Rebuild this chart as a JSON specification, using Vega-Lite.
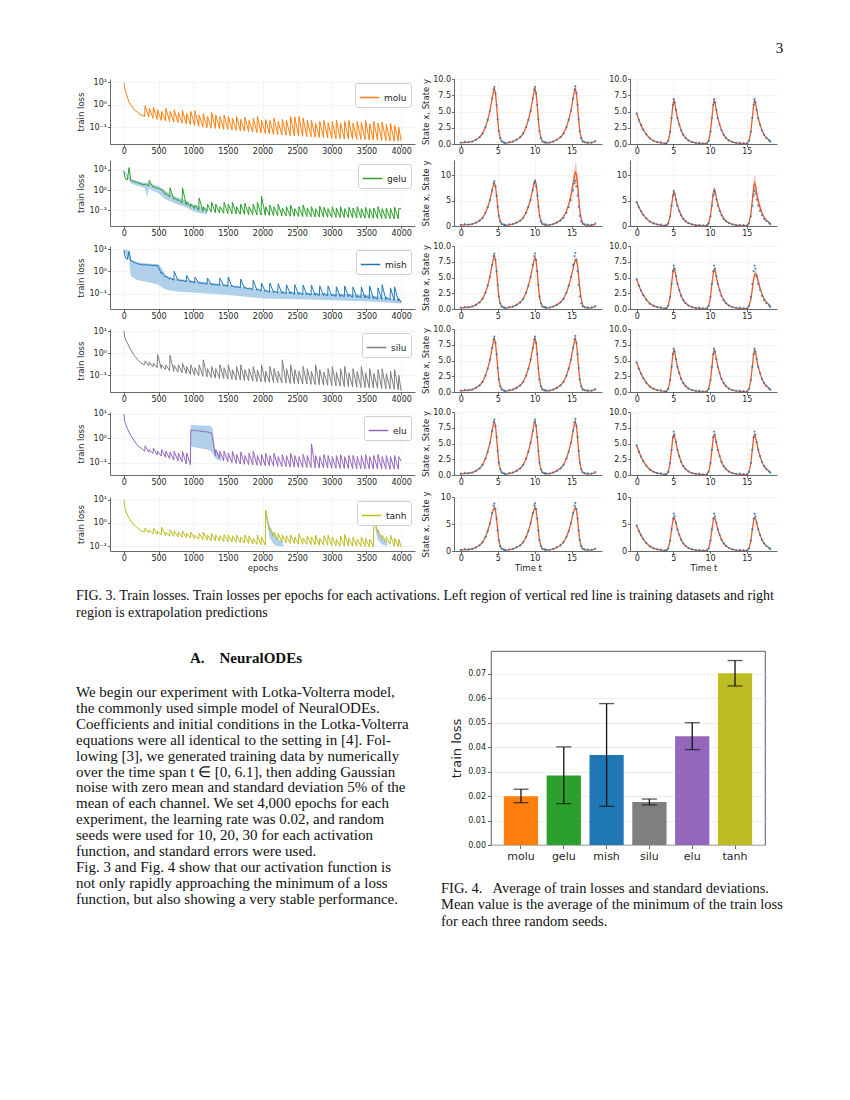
{
"$schema": "https://vega.github.io/schema/vega-lite/v6.json",
"background": "white",
"padding": {"left": 76, "top": 41, "right": 10, "bottom": 10},
"title": {"text": "3", "anchor": "end", "font": "Liberation Serif", "fontSize": 15, "fontWeight": "normal", "color": "#111", "offset": 19},
"config": {
  "view": {"stroke": null},
  "font": "DejaVu Sans",
  "axis": {"labelFont": "DejaVu Sans", "titleFont": "DejaVu Sans", "labelFontSize": 8, "titleFontSize": 8.5, "titleFontWeight": "normal", "labelColor": "#262626", "titleColor": "#262626", "domainColor": "#444", "tickColor": "#444", "domainWidth": 0.8, "tickWidth": 0.8, "tickSize": 2.5, "labelPadding": 1, "titlePadding": 3, "gridColor": "#ececec", "gridWidth": 0.6},
  "legend": {"orient": "top-right", "offset": 4, "symbolType": "stroke", "symbolSize": 380, "symbolStrokeWidth": 1.5, "labelFont": "DejaVu Sans", "labelFontSize": 9, "labelColor": "#222", "strokeColor": "#cfcfcf", "fillColor": "#ffffff", "padding": 4, "cornerRadius": 2}
},
"datasets": {
  "loss": [{
    "e": [0,10,25,50,75,100,150,200,250,300,306,360,366,420,426,480,486,540,546,600,606,660,666,720,726,780,786,840,846,900,906,960,966,1020,1026,1080,1086,1140,1146,1200,1206,1260,1266,1320,1326,1380,1386,1440,1446,1500,1506,1560,1566,1620,1626,1680,1686,1740,1746,1800,1806,1860,1866,1920,1926,1980,1986,2040,2046,2100,2106,2160,2166,2220,2226,2280,2286,2340,2346,2400,2406,2460,2466,2520,2526,2580,2586,2640,2646,2700,2706,2760,2766,2820,2826,2880,2886,2940,2946,3000,3006,3060,3066,3120,3126,3180,3186,3240,3246,3300,3306,3360,3366,3420,3426,3480,3486,3540,3546,3600,3606,3660,3666,3720,3726,3780,3786,3840,3846,3900,3906,3960,3966,4000],
    "molu": [9.5,6,4,2.2,1.3,1.0,0.6,0.45,0.35,0.3,0.9,0.28,0.7,0.25,0.8,0.22,0.6,0.2,0.5,0.19,0.7,0.18,0.5,0.17,0.6,0.16,0.45,0.15,0.55,0.14,0.4,0.13,0.5,0.12,0.55,0.11,0.35,0.1,0.4,0.095,0.3,0.09,0.45,0.088,0.35,0.085,0.3,0.08,0.35,0.078,0.3,0.075,0.25,0.072,0.3,0.07,0.22,0.067,0.28,0.064,0.2,0.06,0.25,0.058,0.3,0.055,0.2,0.053,0.22,0.05,0.2,0.048,0.25,0.047,0.18,0.045,0.22,0.044,0.2,0.042,0.3,0.041,0.28,0.04,0.3,0.039,0.25,0.038,0.2,0.037,0.2,0.036,0.15,0.035,0.18,0.034,0.2,0.033,0.16,0.032,0.18,0.031,0.2,0.031,0.15,0.03,0.18,0.03,0.2,0.029,0.15,0.029,0.18,0.028,0.16,0.028,0.2,0.027,0.14,0.027,0.18,0.026,0.15,0.026,0.17,0.025,0.13,0.025,0.15,0.024,0.12,0.024,0.1,0.025],
    "gelu": [9,5,3.5,3.2,13,3.0,2.6,2.3,2.0,1.8,2.0,1.6,3.0,1.4,1.5,1.2,1.3,1.0,1.1,0.6,0.7,0.45,1.3,0.35,0.4,0.3,0.35,0.22,1.3,0.18,0.25,0.15,0.2,0.12,0.18,0.1,0.4,0.09,0.15,0.085,0.2,0.08,0.25,0.075,0.2,0.072,0.15,0.07,0.25,0.068,0.2,0.066,0.25,0.065,0.15,0.063,0.2,0.062,0.22,0.06,0.15,0.06,0.2,0.058,0.25,0.057,0.5,0.056,0.15,0.055,0.18,0.054,0.15,0.053,0.2,0.052,0.13,0.051,0.15,0.05,0.18,0.05,0.12,0.049,0.15,0.048,0.18,0.048,0.13,0.047,0.15,0.046,0.12,0.046,0.16,0.045,0.14,0.045,0.12,0.044,0.15,0.044,0.13,0.043,0.15,0.043,0.12,0.042,0.14,0.042,0.13,0.041,0.15,0.041,0.12,0.04,0.14,0.04,0.12,0.04,0.13,0.039,0.15,0.039,0.12,0.038,0.13,0.038,0.12,0.037,0.14,0.037,0.12,0.12],
    "mish": [9,6,4,3.5,8,3.0,2.5,2.2,2.0,1.9,2.1,1.85,2.0,1.8,1.95,1.75,1.9,0.8,0.9,0.55,0.6,0.45,0.5,0.4,1.0,0.38,0.42,0.36,0.4,0.34,0.65,0.32,0.36,0.3,0.55,0.29,0.31,0.28,0.3,0.26,0.5,0.25,0.27,0.24,0.26,0.23,0.5,0.22,0.24,0.21,0.55,0.2,0.22,0.19,0.21,0.18,0.45,0.17,0.19,0.16,0.18,0.15,0.4,0.14,0.16,0.13,0.3,0.12,0.14,0.115,0.3,0.11,0.13,0.105,0.28,0.1,0.12,0.098,0.25,0.095,0.12,0.092,0.25,0.09,0.11,0.088,0.24,0.086,0.1,0.085,0.24,0.083,0.1,0.082,0.22,0.08,0.1,0.078,0.22,0.077,0.09,0.075,0.2,0.073,0.09,0.072,0.22,0.07,0.09,0.068,0.2,0.066,0.08,0.064,0.2,0.062,0.08,0.06,0.22,0.058,0.07,0.056,0.18,0.054,0.25,0.052,0.07,0.05,0.18,0.048,0.2,0.045,0.06,0.04],
    "silu": [10,6,4,3,2,1.4,0.8,0.5,0.35,0.3,0.45,0.27,0.4,0.24,0.35,0.22,0.9,0.2,0.3,0.18,0.3,0.16,0.8,0.15,0.28,0.14,0.3,0.13,0.35,0.12,0.25,0.11,0.3,0.1,0.22,0.095,0.3,0.09,0.5,0.085,0.2,0.08,0.25,0.075,0.2,0.072,0.3,0.07,0.22,0.068,0.3,0.065,0.18,0.062,0.25,0.06,0.3,0.058,0.18,0.056,0.2,0.054,0.25,0.052,0.17,0.05,0.3,0.049,0.15,0.048,0.25,0.047,0.2,0.046,0.15,0.045,0.5,0.044,0.2,0.043,0.3,0.042,0.18,0.041,0.15,0.04,0.25,0.04,0.2,0.039,0.15,0.038,0.3,0.037,0.18,0.036,0.14,0.035,0.2,0.034,0.25,0.033,0.14,0.032,0.2,0.031,0.25,0.03,0.13,0.03,0.2,0.029,0.15,0.028,0.25,0.028,0.13,0.027,0.2,0.026,0.12,0.026,0.18,0.025,0.2,0.024,0.12,0.024,0.15,0.023,0.18,0.022,0.1,0.02],
    "elu": [10,5,4,2.5,1.8,1.3,0.8,0.5,0.4,0.3,0.5,0.27,0.35,0.24,0.4,0.21,0.3,0.19,0.35,0.17,0.3,0.15,0.28,0.13,0.3,0.12,0.25,0.11,0.3,0.09,0.25,0.085,2.2,2.1,2.15,2.0,2.05,1.9,1.95,1.8,1.85,1.6,1.7,0.2,0.35,0.15,0.3,0.12,0.3,0.11,0.25,0.1,0.3,0.095,0.22,0.09,0.28,0.088,0.2,0.085,0.25,0.082,0.3,0.08,0.2,0.078,0.22,0.076,0.25,0.075,0.2,0.073,0.25,0.072,0.18,0.07,0.22,0.07,0.2,0.068,0.25,0.067,0.2,0.066,0.18,0.065,0.22,0.065,0.2,0.064,0.6,0.063,0.2,0.062,0.18,0.062,0.22,0.061,0.2,0.06,0.18,0.06,0.2,0.06,0.22,0.059,0.18,0.059,0.2,0.058,0.2,0.058,0.18,0.058,0.2,0.057,0.22,0.057,0.18,0.057,0.2,0.056,0.22,0.056,0.18,0.056,0.2,0.055,0.18,0.055,0.2,0.055,0.18,0.12],
    "tanh": [10,5,3.5,2.2,1.6,1.2,0.8,0.6,0.45,0.4,0.6,0.37,0.5,0.34,0.6,0.32,0.45,0.3,0.65,0.28,0.4,0.27,0.5,0.26,0.45,0.25,0.4,0.24,0.45,0.23,0.35,0.22,0.4,0.21,0.3,0.2,0.35,0.19,0.4,0.18,0.3,0.175,0.35,0.17,0.3,0.165,0.28,0.16,0.32,0.155,0.3,0.15,0.28,0.145,0.3,0.14,0.25,0.135,0.3,0.13,0.28,0.125,0.22,0.12,0.3,0.115,0.25,0.11,3.5,0.5,0.6,0.25,0.4,0.18,0.35,0.15,0.3,0.14,0.28,0.13,0.3,0.13,0.25,0.12,0.35,0.12,0.22,0.12,0.28,0.115,0.25,0.115,0.3,0.11,0.22,0.11,0.28,0.11,0.3,0.105,0.25,0.105,0.2,0.1,0.28,0.1,0.32,0.1,0.22,0.1,0.25,0.1,0.2,0.098,0.25,0.096,0.22,0.095,0.2,0.094,1.7,0.4,0.5,0.2,0.3,0.15,0.25,0.12,0.3,0.1,0.22,0.095,0.2,0.09]
  }],
  "lossband": [
    {"a": "gelu", "g": "a", "e": [0,100,200,300,340,360,400,500,600,700,800,900,1000,1100,1200], "lo": [8,2.2,1.6,1.3,0.45,1.2,1.0,0.7,0.35,0.25,0.18,0.14,0.09,0.07,0.065], "hi": [10,3.5,2.8,2.3,2.3,2.2,2.0,1.6,0.9,0.55,0.4,0.3,0.2,0.15,0.12]},
    {"a": "mish", "g": "a", "e": [0,75,100,200,300,400,500,540,600,700,800,1000,1200,1500,2000,2500,3000,3500,4000], "lo": [8,3,0.6,0.4,0.35,0.3,0.25,0.2,0.15,0.13,0.12,0.11,0.1,0.085,0.06,0.055,0.05,0.045,0.035], "hi": [10,8.5,3.4,2.6,2.3,2.2,2.1,1.5,0.7,0.5,0.45,0.38,0.32,0.25,0.14,0.11,0.1,0.09,0.05]},
    {"a": "elu", "g": "a", "e": [940,960,966,1000,1100,1200,1260,1280,1320,1400], "lo": [0.085,0.085,0.5,0.45,0.4,0.35,0.3,0.25,0.15,0.12], "hi": [0.09,0.09,3.6,3.5,3.4,3.3,3.2,2.5,0.3,0.2]},
    {"a": "tanh", "g": "a", "e": [2040,2046,2100,2160,2220,2300], "lo": [0.11,2.0,0.25,0.12,0.1,0.1], "hi": [0.11,3.7,0.8,0.35,0.2,0.15]},
    {"a": "tanh", "g": "b", "e": [3600,3606,3660,3720,3800], "lo": [0.094,1.2,0.2,0.12,0.1], "hi": [0.094,1.8,0.5,0.25,0.15]}
  ],
  "tsx": [{
    "t": [0,0.55,1.05,1.55,2.05,2.55,2.95,3.35,3.65,3.95,4.25,4.45,4.55,4.7,4.85,5.0,5.15,5.35,5.55,5.85,6.05,6.55,7.05,7.55,8.05,8.45,8.85,9.15,9.45,9.75,9.95,10.05,10.2,10.35,10.5,10.65,10.85,11.05,11.35,11.55,12.0,12.5,13.0,13.5,13.9,14.3,14.6,14.9,15.2,15.4,15.5,15.65,15.8,15.95,16.1,16.3,16.5,16.8,17.2,17.7,18.2],
    "d": [0.2,0.35,0.28,0.38,0.65,1.05,1.6,2.6,3.7,5.1,7.0,8.4,8.8,7.8,6.0,3.8,2.0,0.9,0.4,0.25,0.1,0.3,0.38,0.65,1.05,1.6,2.6,3.7,5.1,7.0,8.4,8.8,7.8,6.0,3.8,2.0,0.9,0.4,0.3,0.25,0.22,0.38,0.65,1.05,1.6,2.6,3.7,5.1,7.0,8.4,8.9,7.8,6.0,3.8,2.0,0.9,0.4,0.3,0.25,0.22,0.45],
    "p": [0.2,0.22,0.28,0.38,0.65,1.05,1.6,2.6,3.7,5.1,7.0,8.2,8.5,7.8,6.0,3.8,2.0,0.9,0.4,0.2,0.15,0.22,0.38,0.65,1.05,1.6,2.6,3.7,5.1,7.0,8.2,8.5,7.8,6.0,3.8,2.0,0.9,0.4,0.2,0.15,0.22,0.38,0.65,1.05,1.6,2.6,3.7,5.1,7.0,8.2,8.5,7.8,6.0,3.8,2.0,0.9,0.4,0.2,0.15,0.22,0.35],
    "gelu": [0.2,0.22,0.28,0.38,0.65,1.05,1.6,2.6,3.7,5.1,7.0,8.2,8.5,7.8,6.0,3.8,2.0,0.9,0.4,0.2,0.15,0.22,0.38,0.65,1.05,1.65,2.7,3.85,5.3,7.3,8.6,8.95,8.3,6.5,4.2,2.2,1.0,0.45,0.2,0.15,0.22,0.38,0.7,1.15,1.8,2.9,4.2,5.9,8.3,10.0,10.6,10.2,8.4,5.8,3.2,1.4,0.5,0.2,0.12,0.15,0.3],
    "mish": [0.2,0.22,0.28,0.38,0.65,1.05,1.6,2.6,3.7,5.1,7.0,8.2,8.5,7.8,6.0,3.8,2.0,0.9,0.4,0.2,0.15,0.22,0.38,0.65,1.05,1.6,2.6,3.7,5.1,6.8,7.9,8.2,7.6,6.0,3.8,2.0,0.9,0.4,0.2,0.15,0.22,0.38,0.65,1.05,1.6,2.6,3.6,4.9,6.5,7.4,7.8,7.7,6.9,5.2,3.3,1.6,0.6,0.22,0.15,0.22,0.35],
    "tanh": [0.2,0.22,0.28,0.38,0.65,1.05,1.6,2.6,3.7,5.1,7.0,7.8,8.1,7.5,6.0,3.8,2.0,0.9,0.4,0.2,0.15,0.22,0.38,0.65,1.05,1.6,2.6,3.7,5.1,7.0,7.8,8.1,7.5,6.0,3.8,2.0,0.9,0.4,0.2,0.15,0.22,0.38,0.65,1.05,1.6,2.6,3.7,5.1,7.0,7.8,8.1,7.5,6.0,3.8,2.0,0.9,0.4,0.2,0.15,0.22,0.35]
  }],
  "tsy": [{
    "t": [0,0.3,0.6,0.9,1.3,1.8,2.3,2.8,3.3,3.8,4.05,4.3,4.55,4.75,4.93,5.05,5.17,5.35,5.55,5.8,6.05,6.35,6.65,7.05,7.55,8.05,8.55,9.05,9.55,9.8,10.05,10.25,10.43,10.55,10.67,10.85,11.05,11.3,11.55,11.85,12.15,12.55,13.05,13.55,14.05,14.55,15.05,15.3,15.55,15.75,15.93,16.05,16.17,16.35,16.55,16.8,17.05,17.35,17.65,18.05,18.2],
    "d": [4.7,3.7,2.9,2.2,1.5,0.85,0.5,0.3,0.25,0.05,0.1,0.5,1.9,4.0,6.0,6.9,6.4,5.2,4.0,3.0,2.1,1.4,0.95,0.55,0.3,0.17,0.2,0.1,0.1,0.5,1.9,4.0,6.0,6.9,6.4,5.2,4.0,3.0,2.1,1.4,0.95,0.55,0.3,0.17,0.2,0.15,0.1,0.5,1.9,4.0,6.0,6.9,6.4,5.2,4.0,3.0,2.1,1.4,0.95,0.55,0.35],
    "p": [4.7,3.7,2.9,2.2,1.5,0.85,0.5,0.3,0.17,0.1,0.1,0.5,1.9,4.0,6.0,6.7,6.4,5.2,4.0,3.0,2.1,1.4,0.95,0.55,0.3,0.17,0.1,0.07,0.1,0.5,1.9,4.0,6.0,6.7,6.4,5.2,4.0,3.0,2.1,1.4,0.95,0.55,0.3,0.17,0.1,0.07,0.1,0.5,1.9,4.0,6.0,6.7,6.4,5.2,4.0,3.0,2.1,1.4,0.95,0.55,0.45],
    "gelu": [4.7,3.7,2.9,2.2,1.5,0.85,0.5,0.3,0.17,0.1,0.1,0.5,1.9,4.0,6.0,6.7,6.4,5.2,4.0,3.0,2.1,1.4,0.95,0.55,0.3,0.17,0.1,0.07,0.1,0.55,2.05,4.3,6.5,7.25,6.95,5.6,4.3,3.2,2.25,1.5,1.0,0.6,0.32,0.18,0.1,0.07,0.1,0.6,2.4,5.0,7.5,8.4,8.0,6.5,5.0,3.7,2.6,1.75,1.2,0.7,0.55],
    "mish": [4.7,3.7,2.9,2.2,1.5,0.85,0.5,0.3,0.17,0.1,0.1,0.5,1.9,4.0,5.8,6.5,6.3,5.2,4.0,3.0,2.1,1.4,0.95,0.55,0.3,0.17,0.1,0.07,0.1,0.5,1.9,4.0,5.6,6.3,6.2,5.1,4.0,3.0,2.1,1.4,0.95,0.55,0.3,0.17,0.1,0.07,0.1,0.5,1.5,3.2,4.8,5.4,5.6,5.3,4.4,3.3,2.4,1.6,1.1,0.65,0.5],
    "elu": [4.7,3.7,2.9,2.2,1.5,0.85,0.5,0.3,0.17,0.1,0.1,0.5,1.9,4.0,6.0,6.4,6.1,5.2,4.0,3.0,2.1,1.4,0.95,0.55,0.3,0.17,0.1,0.07,0.1,0.5,1.9,4.0,6.0,6.4,6.1,5.2,4.0,3.0,2.1,1.4,0.95,0.55,0.3,0.17,0.1,0.07,0.1,0.5,1.9,4.0,6.0,6.4,6.1,5.2,4.0,3.0,2.1,1.4,0.95,0.55,0.45],
    "tanh": [4.7,3.7,2.9,2.2,1.5,0.85,0.5,0.3,0.17,0.1,0.1,0.5,1.9,4.0,5.6,6.2,6.0,5.2,4.0,3.0,2.1,1.4,0.95,0.55,0.3,0.17,0.1,0.07,0.1,0.5,1.9,4.0,5.6,6.2,6.0,5.2,4.0,3.0,2.1,1.4,0.95,0.55,0.3,0.17,0.1,0.07,0.1,0.5,1.9,4.0,5.6,6.2,6.0,5.2,4.0,3.0,2.1,1.4,0.95,0.55,0.45]
  }],
  "tsband": [
    {"p": "gelux", "g": "a", "t": [9.75,9.95,10.05,10.2,10.35], "lo": [7.0,8.2,8.5,7.8,6.1], "hi": [7.6,9.1,9.5,8.8,6.9]},
    {"p": "gelux", "g": "b", "t": [14.3,14.6,14.9,15.2,15.4,15.5,15.65,15.8,15.95,16.1,16.3,16.5], "lo": [2.6,3.7,5.1,7.0,8.4,8.8,8.3,6.6,4.3,2.2,0.9,0.4], "hi": [3.2,4.7,6.7,9.6,11.6,12.6,12.1,10.2,7.3,4.2,2.0,0.7]},
    {"p": "geluy", "g": "a", "t": [10.25,10.43,10.55,10.67,10.85], "lo": [3.9,6.1,6.8,6.5,5.2], "hi": [4.6,6.9,7.7,7.4,6.0]},
    {"p": "geluy", "g": "b", "t": [15.55,15.75,15.93,16.05,16.17,16.35,16.55,16.8,17.05], "lo": [1.9,4.0,6.1,6.9,6.5,5.2,4.0,3.0,2.1], "hi": [2.9,6.0,9.0,10.1,9.6,7.8,5.9,4.4,3.1]},
    {"p": "mishx", "g": "b", "t": [15.2,15.4,15.5,15.65,15.8,15.95,16.1,16.3], "lo": [6.1,7.0,7.4,7.2,6.2,4.4,2.6,1.2], "hi": [7.0,7.9,8.3,8.3,7.6,6.0,4.0,2.0]},
    {"p": "mishy", "g": "b", "t": [15.93,16.05,16.17,16.35,16.55,16.8], "lo": [4.4,5.0,5.1,4.8,4.0,3.0], "hi": [5.4,6.0,6.2,5.9,4.9,3.6]}
  ],
  "bars": [
    {"act": "molu", "mean": 0.0199, "lo": 0.0173, "hi": 0.0228},
    {"act": "gelu", "mean": 0.0284, "lo": 0.0169, "hi": 0.0401},
    {"act": "mish", "mean": 0.0368, "lo": 0.0158, "hi": 0.0578},
    {"act": "silu", "mean": 0.0176, "lo": 0.0164, "hi": 0.0188},
    {"act": "elu", "mean": 0.0445, "lo": 0.039, "hi": 0.05},
    {"act": "tanh", "mean": 0.0702, "lo": 0.065, "hi": 0.0754}
  ]
},
"columns": 1,
"align": "none",
"spacing": 17,
"concat": [
{
  "columns": 3,
  "align": "each",
  "spacing": {"row": 4, "column": 6},
  "resolve": {"scale": {"x": "independent", "y": "independent", "color": "independent"}},
  "concat": [
    {"width": 305, "height": 65, "data": {"name": "loss"}, "transform": [{"flatten": ["e","molu","gelu","mish","silu","elu","tanh"]}],
     "mark": {"type": "line", "strokeWidth": 1, "clip": true},
     "encoding": {
       "x": {"field": "e", "type": "quantitative", "scale": {"domain": [-200,4200], "nice": false, "zero": false}, "axis": {"values": [0,500,1000,1500,2000,2500,3000,3500,4000], "format": "d", "title": null, "labelFlush": false}},
       "y": {"field": "molu", "type": "quantitative", "scale": {"type": "log", "domain": [0.0178,14], "nice": false}, "axis": {"values": [0.1,1,10], "labelExpr": "datum.value > 5 ? '10¹' : datum.value > 0.5 ? '10⁰' : '10⁻¹'", "title": "train loss", "minExtent": 20, "maxExtent": 20, "titlePadding": 5}},
       "color": {"datum": "molu", "type": "nominal", "scale": {"domain": ["molu"], "range": ["#ff7f0e"]}, "legend": {"title": null}}
     }},
    {"width": 148, "height": 65, "encoding": {"x": {"field": "t", "type": "quantitative", "scale": {"domain": [-0.91,19.11], "nice": false, "zero": false}, "axis": {"values": [0,5,10,15], "title": null, "labelFlush": false}}},
     "layer": [
       {"data": {"name": "tsx"}, "transform": [{"flatten": ["t","d","p","gelu","mish","tanh"]}], "mark": {"type": "line", "color": "#ee5a2c", "strokeWidth": 1.3},
        "encoding": {"y": {"field": "p", "type": "quantitative", "scale": {"domain": [0,10], "nice": false, "zero": false}, "axis": {"values": [0,2.5,5,7.5,10], "format": ".1f", "title": "State x, State y", "minExtent": 21, "maxExtent": 21, "titlePadding": 3}}}},
       {"data": {"name": "tsx"}, "transform": [{"flatten": ["t","d","p","gelu","mish","tanh"]}], "mark": {"type": "circle", "size": 5, "color": "#1f77b4", "opacity": 0.8},
        "encoding": {"y": {"field": "d", "type": "quantitative", "scale": {"domain": [0,10], "nice": false, "zero": false}, "axis": {"values": [0,2.5,5,7.5,10], "format": ".1f", "title": "State x, State y", "minExtent": 21, "maxExtent": 21, "titlePadding": 3}}}},
       {"data": {"values": [{}]}, "mark": {"type": "rule", "color": "#f25a5a", "strokeWidth": 1.1}, "encoding": {"x": {"datum": 6.1, "type": "quantitative"}}}
     ]},
    {"width": 147, "height": 65, "encoding": {"x": {"field": "t", "type": "quantitative", "scale": {"domain": [-0.91,19.11], "nice": false, "zero": false}, "axis": {"values": [0,5,10,15], "title": null, "labelFlush": false}}},
     "layer": [
       {"data": {"name": "tsy"}, "transform": [{"flatten": ["t","d","p","gelu","mish","elu","tanh"]}], "mark": {"type": "line", "color": "#ee5a2c", "strokeWidth": 1.3},
        "encoding": {"y": {"field": "p", "type": "quantitative", "scale": {"domain": [0,10], "nice": false, "zero": false}, "axis": {"values": [0,2.5,5,7.5,10], "format": ".1f", "title": null, "minExtent": 21, "maxExtent": 21}}}},
       {"data": {"name": "tsy"}, "transform": [{"flatten": ["t","d","p","gelu","mish","elu","tanh"]}], "mark": {"type": "circle", "size": 5, "color": "#1f77b4", "opacity": 0.8},
        "encoding": {"y": {"field": "d", "type": "quantitative", "scale": {"domain": [0,10], "nice": false, "zero": false}, "axis": {"values": [0,2.5,5,7.5,10], "format": ".1f", "title": null, "minExtent": 21, "maxExtent": 21}}}},
       {"data": {"values": [{}]}, "mark": {"type": "rule", "color": "#f25a5a", "strokeWidth": 1.1}, "encoding": {"x": {"datum": 6.1, "type": "quantitative"}}}
     ]},

    {"width": 305, "height": 66, "encoding": {"x": {"field": "e", "type": "quantitative", "scale": {"domain": [-200,4200], "nice": false, "zero": false}, "axis": {"values": [0,500,1000,1500,2000,2500,3000,3500,4000], "format": "d", "title": null, "labelFlush": false}}},
     "layer": [
       {"data": {"name": "lossband"}, "transform": [{"filter": "datum.a == 'gelu'"}, {"flatten": ["e","lo","hi"]}], "mark": {"type": "area", "color": "#a9cbe8", "opacity": 0.9, "clip": true},
        "encoding": {"y": {"field": "lo", "type": "quantitative", "scale": {"type": "log", "domain": [0.0165,31], "nice": false}, "axis": {"values": [0.1,1,10], "labelExpr": "datum.value > 5 ? '10¹' : datum.value > 0.5 ? '10⁰' : '10⁻¹'", "title": "train loss", "minExtent": 20, "maxExtent": 20, "titlePadding": 5}}, "y2": {"field": "hi"}, "detail": {"field": "g"}}},
       {"data": {"name": "loss"}, "transform": [{"flatten": ["e","molu","gelu","mish","silu","elu","tanh"]}], "mark": {"type": "line", "strokeWidth": 1, "clip": true},
        "encoding": {"y": {"field": "gelu", "type": "quantitative", "scale": {"type": "log", "domain": [0.0165,31], "nice": false}, "axis": {"values": [0.1,1,10], "labelExpr": "datum.value > 5 ? '10¹' : datum.value > 0.5 ? '10⁰' : '10⁻¹'", "title": "train loss", "minExtent": 20, "maxExtent": 20, "titlePadding": 5}},
          "color": {"datum": "gelu", "type": "nominal", "scale": {"domain": ["gelu"], "range": ["#2ca02c"]}, "legend": {"title": null}}}}
     ]},
    {"width": 148, "height": 66, "encoding": {"x": {"field": "t", "type": "quantitative", "scale": {"domain": [-0.91,19.11], "nice": false, "zero": false}, "axis": {"values": [0,5,10,15], "title": null, "labelFlush": false}}},
     "layer": [
       {"data": {"name": "tsband"}, "transform": [{"filter": "datum.p == 'gelux'"}, {"flatten": ["t","lo","hi"]}], "mark": {"type": "area", "color": "#f7a789", "opacity": 0.6},
        "encoding": {"y": {"field": "lo", "type": "quantitative", "scale": {"domain": [0,13], "nice": false, "zero": false}, "axis": {"values": [0,5,10], "format": "d", "title": "State x, State y", "minExtent": 21, "maxExtent": 21, "titlePadding": 3}}, "y2": {"field": "hi"}, "detail": {"field": "g"}}},
       {"data": {"name": "tsx"}, "transform": [{"flatten": ["t","d","p","gelu","mish","tanh"]}], "mark": {"type": "line", "color": "#ee5a2c", "strokeWidth": 1.3},
        "encoding": {"y": {"field": "gelu", "type": "quantitative", "scale": {"domain": [0,13], "nice": false, "zero": false}, "axis": {"values": [0,5,10], "format": "d", "title": "State x, State y", "minExtent": 21, "maxExtent": 21, "titlePadding": 3}}}},
       {"data": {"name": "tsx"}, "transform": [{"flatten": ["t","d","p","gelu","mish","tanh"]}], "mark": {"type": "circle", "size": 5, "color": "#1f77b4", "opacity": 0.8},
        "encoding": {"y": {"field": "d", "type": "quantitative", "scale": {"domain": [0,13], "nice": false, "zero": false}, "axis": {"values": [0,5,10], "format": "d", "title": "State x, State y", "minExtent": 21, "maxExtent": 21, "titlePadding": 3}}}},
       {"data": {"values": [{}]}, "mark": {"type": "rule", "color": "#f25a5a", "strokeWidth": 1.1}, "encoding": {"x": {"datum": 6.1, "type": "quantitative"}}}
     ]},
    {"width": 147, "height": 66, "encoding": {"x": {"field": "t", "type": "quantitative", "scale": {"domain": [-0.91,19.11], "nice": false, "zero": false}, "axis": {"values": [0,5,10,15], "title": null, "labelFlush": false}}},
     "layer": [
       {"data": {"name": "tsband"}, "transform": [{"filter": "datum.p == 'geluy'"}, {"flatten": ["t","lo","hi"]}], "mark": {"type": "area", "color": "#f7a789", "opacity": 0.6},
        "encoding": {"y": {"field": "lo", "type": "quantitative", "scale": {"domain": [0,13], "nice": false, "zero": false}, "axis": {"values": [0,5,10], "format": "d", "title": null, "minExtent": 21, "maxExtent": 21}}, "y2": {"field": "hi"}, "detail": {"field": "g"}}},
       {"data": {"name": "tsy"}, "transform": [{"flatten": ["t","d","p","gelu","mish","elu","tanh"]}], "mark": {"type": "line", "color": "#ee5a2c", "strokeWidth": 1.3},
        "encoding": {"y": {"field": "gelu", "type": "quantitative", "scale": {"domain": [0,13], "nice": false, "zero": false}, "axis": {"values": [0,5,10], "format": "d", "title": null, "minExtent": 21, "maxExtent": 21}}}},
       {"data": {"name": "tsy"}, "transform": [{"flatten": ["t","d","p","gelu","mish","elu","tanh"]}], "mark": {"type": "circle", "size": 5, "color": "#1f77b4", "opacity": 0.8},
        "encoding": {"y": {"field": "d", "type": "quantitative", "scale": {"domain": [0,13], "nice": false, "zero": false}, "axis": {"values": [0,5,10], "format": "d", "title": null, "minExtent": 21, "maxExtent": 21}}}},
       {"data": {"values": [{}]}, "mark": {"type": "rule", "color": "#f25a5a", "strokeWidth": 1.1}, "encoding": {"x": {"datum": 6.1, "type": "quantitative"}}}
     ]},

    {"width": 305, "height": 63, "encoding": {"x": {"field": "e", "type": "quantitative", "scale": {"domain": [-200,4200], "nice": false, "zero": false}, "axis": {"values": [0,500,1000,1500,2000,2500,3000,3500,4000], "format": "d", "title": null, "labelFlush": false}}},
     "layer": [
       {"data": {"name": "lossband"}, "transform": [{"filter": "datum.a == 'mish'"}, {"flatten": ["e","lo","hi"]}], "mark": {"type": "area", "color": "#a9cbe8", "opacity": 0.9, "clip": true},
        "encoding": {"y": {"field": "lo", "type": "quantitative", "scale": {"type": "log", "domain": [0.02,14], "nice": false}, "axis": {"values": [0.1,1,10], "labelExpr": "datum.value > 5 ? '10¹' : datum.value > 0.5 ? '10⁰' : '10⁻¹'", "title": "train loss", "minExtent": 20, "maxExtent": 20, "titlePadding": 5}}, "y2": {"field": "hi"}, "detail": {"field": "g"}}},
       {"data": {"name": "loss"}, "transform": [{"flatten": ["e","molu","gelu","mish","silu","elu","tanh"]}], "mark": {"type": "line", "strokeWidth": 1, "clip": true},
        "encoding": {"y": {"field": "mish", "type": "quantitative", "scale": {"type": "log", "domain": [0.02,14], "nice": false}, "axis": {"values": [0.1,1,10], "labelExpr": "datum.value > 5 ? '10¹' : datum.value > 0.5 ? '10⁰' : '10⁻¹'", "title": "train loss", "minExtent": 20, "maxExtent": 20, "titlePadding": 5}},
          "color": {"datum": "mish", "type": "nominal", "scale": {"domain": ["mish"], "range": ["#1f77b4"]}, "legend": {"title": null}}}}
     ]},
    {"width": 148, "height": 63, "encoding": {"x": {"field": "t", "type": "quantitative", "scale": {"domain": [-0.91,19.11], "nice": false, "zero": false}, "axis": {"values": [0,5,10,15], "title": null, "labelFlush": false}}},
     "layer": [
       {"data": {"name": "tsband"}, "transform": [{"filter": "datum.p == 'mishx'"}, {"flatten": ["t","lo","hi"]}], "mark": {"type": "area", "color": "#f7a789", "opacity": 0.6},
        "encoding": {"y": {"field": "lo", "type": "quantitative", "scale": {"domain": [0,10], "nice": false, "zero": false}, "axis": {"values": [0,2.5,5,7.5,10], "format": ".1f", "title": "State x, State y", "minExtent": 21, "maxExtent": 21, "titlePadding": 3}}, "y2": {"field": "hi"}, "detail": {"field": "g"}}},
       {"data": {"name": "tsx"}, "transform": [{"flatten": ["t","d","p","gelu","mish","tanh"]}], "mark": {"type": "line", "color": "#ee5a2c", "strokeWidth": 1.3},
        "encoding": {"y": {"field": "mish", "type": "quantitative", "scale": {"domain": [0,10], "nice": false, "zero": false}, "axis": {"values": [0,2.5,5,7.5,10], "format": ".1f", "title": "State x, State y", "minExtent": 21, "maxExtent": 21, "titlePadding": 3}}}},
       {"data": {"name": "tsx"}, "transform": [{"flatten": ["t","d","p","gelu","mish","tanh"]}], "mark": {"type": "circle", "size": 5, "color": "#1f77b4", "opacity": 0.8},
        "encoding": {"y": {"field": "d", "type": "quantitative", "scale": {"domain": [0,10], "nice": false, "zero": false}, "axis": {"values": [0,2.5,5,7.5,10], "format": ".1f", "title": "State x, State y", "minExtent": 21, "maxExtent": 21, "titlePadding": 3}}}},
       {"data": {"values": [{}]}, "mark": {"type": "rule", "color": "#f25a5a", "strokeWidth": 1.1}, "encoding": {"x": {"datum": 6.1, "type": "quantitative"}}}
     ]},
    {"width": 147, "height": 63, "encoding": {"x": {"field": "t", "type": "quantitative", "scale": {"domain": [-0.91,19.11], "nice": false, "zero": false}, "axis": {"values": [0,5,10,15], "title": null, "labelFlush": false}}},
     "layer": [
       {"data": {"name": "tsband"}, "transform": [{"filter": "datum.p == 'mishy'"}, {"flatten": ["t","lo","hi"]}], "mark": {"type": "area", "color": "#f7a789", "opacity": 0.6},
        "encoding": {"y": {"field": "lo", "type": "quantitative", "scale": {"domain": [0,10], "nice": false, "zero": false}, "axis": {"values": [0,2.5,5,7.5,10], "format": ".1f", "title": null, "minExtent": 21, "maxExtent": 21}}, "y2": {"field": "hi"}, "detail": {"field": "g"}}},
       {"data": {"name": "tsy"}, "transform": [{"flatten": ["t","d","p","gelu","mish","elu","tanh"]}], "mark": {"type": "line", "color": "#ee5a2c", "strokeWidth": 1.3},
        "encoding": {"y": {"field": "mish", "type": "quantitative", "scale": {"domain": [0,10], "nice": false, "zero": false}, "axis": {"values": [0,2.5,5,7.5,10], "format": ".1f", "title": null, "minExtent": 21, "maxExtent": 21}}}},
       {"data": {"name": "tsy"}, "transform": [{"flatten": ["t","d","p","gelu","mish","elu","tanh"]}], "mark": {"type": "circle", "size": 5, "color": "#1f77b4", "opacity": 0.8},
        "encoding": {"y": {"field": "d", "type": "quantitative", "scale": {"domain": [0,10], "nice": false, "zero": false}, "axis": {"values": [0,2.5,5,7.5,10], "format": ".1f", "title": null, "minExtent": 21, "maxExtent": 21}}}},
       {"data": {"values": [{}]}, "mark": {"type": "rule", "color": "#f25a5a", "strokeWidth": 1.1}, "encoding": {"x": {"datum": 6.1, "type": "quantitative"}}}
     ]},

    {"width": 305, "height": 63, "data": {"name": "loss"}, "transform": [{"flatten": ["e","molu","gelu","mish","silu","elu","tanh"]}],
     "mark": {"type": "line", "strokeWidth": 1, "clip": true},
     "encoding": {
       "x": {"field": "e", "type": "quantitative", "scale": {"domain": [-200,4200], "nice": false, "zero": false}, "axis": {"values": [0,500,1000,1500,2000,2500,3000,3500,4000], "format": "d", "title": null, "labelFlush": false}},
       "y": {"field": "silu", "type": "quantitative", "scale": {"type": "log", "domain": [0.0175,12.5], "nice": false}, "axis": {"values": [0.1,1,10], "labelExpr": "datum.value > 5 ? '10¹' : datum.value > 0.5 ? '10⁰' : '10⁻¹'", "title": "train loss", "minExtent": 20, "maxExtent": 20, "titlePadding": 5}},
       "color": {"datum": "silu", "type": "nominal", "scale": {"domain": ["silu"], "range": ["#7f7f7f"]}, "legend": {"title": null}}
     }},
    {"width": 148, "height": 63, "encoding": {"x": {"field": "t", "type": "quantitative", "scale": {"domain": [-0.91,19.11], "nice": false, "zero": false}, "axis": {"values": [0,5,10,15], "title": null, "labelFlush": false}}},
     "layer": [
       {"data": {"name": "tsx"}, "transform": [{"flatten": ["t","d","p","gelu","mish","tanh"]}], "mark": {"type": "line", "color": "#ee5a2c", "strokeWidth": 1.3},
        "encoding": {"y": {"field": "p", "type": "quantitative", "scale": {"domain": [0,10], "nice": false, "zero": false}, "axis": {"values": [0,2.5,5,7.5,10], "format": ".1f", "title": "State x, State y", "minExtent": 21, "maxExtent": 21, "titlePadding": 3}}}},
       {"data": {"name": "tsx"}, "transform": [{"flatten": ["t","d","p","gelu","mish","tanh"]}], "mark": {"type": "circle", "size": 5, "color": "#1f77b4", "opacity": 0.8},
        "encoding": {"y": {"field": "d", "type": "quantitative", "scale": {"domain": [0,10], "nice": false, "zero": false}, "axis": {"values": [0,2.5,5,7.5,10], "format": ".1f", "title": "State x, State y", "minExtent": 21, "maxExtent": 21, "titlePadding": 3}}}},
       {"data": {"values": [{}]}, "mark": {"type": "rule", "color": "#f25a5a", "strokeWidth": 1.1}, "encoding": {"x": {"datum": 6.1, "type": "quantitative"}}}
     ]},
    {"width": 147, "height": 63, "encoding": {"x": {"field": "t", "type": "quantitative", "scale": {"domain": [-0.91,19.11], "nice": false, "zero": false}, "axis": {"values": [0,5,10,15], "title": null, "labelFlush": false}}},
     "layer": [
       {"data": {"name": "tsy"}, "transform": [{"flatten": ["t","d","p","gelu","mish","elu","tanh"]}], "mark": {"type": "line", "color": "#ee5a2c", "strokeWidth": 1.3},
        "encoding": {"y": {"field": "p", "type": "quantitative", "scale": {"domain": [0,10], "nice": false, "zero": false}, "axis": {"values": [0,2.5,5,7.5,10], "format": ".1f", "title": null, "minExtent": 21, "maxExtent": 21}}}},
       {"data": {"name": "tsy"}, "transform": [{"flatten": ["t","d","p","gelu","mish","elu","tanh"]}], "mark": {"type": "circle", "size": 5, "color": "#1f77b4", "opacity": 0.8},
        "encoding": {"y": {"field": "d", "type": "quantitative", "scale": {"domain": [0,10], "nice": false, "zero": false}, "axis": {"values": [0,2.5,5,7.5,10], "format": ".1f", "title": null, "minExtent": 21, "maxExtent": 21}}}},
       {"data": {"values": [{}]}, "mark": {"type": "rule", "color": "#f25a5a", "strokeWidth": 1.1}, "encoding": {"x": {"datum": 6.1, "type": "quantitative"}}}
     ]},

    {"width": 305, "height": 63, "encoding": {"x": {"field": "e", "type": "quantitative", "scale": {"domain": [-200,4200], "nice": false, "zero": false}, "axis": {"values": [0,500,1000,1500,2000,2500,3000,3500,4000], "format": "d", "title": null, "labelFlush": false}}},
     "layer": [
       {"data": {"name": "lossband"}, "transform": [{"filter": "datum.a == 'elu'"}, {"flatten": ["e","lo","hi"]}], "mark": {"type": "area", "color": "#a9cbe8", "opacity": 0.9, "clip": true},
        "encoding": {"y": {"field": "lo", "type": "quantitative", "scale": {"type": "log", "domain": [0.032,12], "nice": false}, "axis": {"values": [0.1,1,10], "labelExpr": "datum.value > 5 ? '10¹' : datum.value > 0.5 ? '10⁰' : '10⁻¹'", "title": "train loss", "minExtent": 20, "maxExtent": 20, "titlePadding": 5}}, "y2": {"field": "hi"}, "detail": {"field": "g"}}},
       {"data": {"name": "loss"}, "transform": [{"flatten": ["e","molu","gelu","mish","silu","elu","tanh"]}], "mark": {"type": "line", "strokeWidth": 1, "clip": true},
        "encoding": {"y": {"field": "elu", "type": "quantitative", "scale": {"type": "log", "domain": [0.032,12], "nice": false}, "axis": {"values": [0.1,1,10], "labelExpr": "datum.value > 5 ? '10¹' : datum.value > 0.5 ? '10⁰' : '10⁻¹'", "title": "train loss", "minExtent": 20, "maxExtent": 20, "titlePadding": 5}},
          "color": {"datum": "elu", "type": "nominal", "scale": {"domain": ["elu"], "range": ["#9467bd"]}, "legend": {"title": null}}}}
     ]},
    {"width": 148, "height": 63, "encoding": {"x": {"field": "t", "type": "quantitative", "scale": {"domain": [-0.91,19.11], "nice": false, "zero": false}, "axis": {"values": [0,5,10,15], "title": null, "labelFlush": false}}},
     "layer": [
       {"data": {"name": "tsx"}, "transform": [{"flatten": ["t","d","p","gelu","mish","tanh"]}], "mark": {"type": "line", "color": "#ee5a2c", "strokeWidth": 1.3},
        "encoding": {"y": {"field": "p", "type": "quantitative", "scale": {"domain": [0,10], "nice": false, "zero": false}, "axis": {"values": [0,2.5,5,7.5,10], "format": ".1f", "title": "State x, State y", "minExtent": 21, "maxExtent": 21, "titlePadding": 3}}}},
       {"data": {"name": "tsx"}, "transform": [{"flatten": ["t","d","p","gelu","mish","tanh"]}], "mark": {"type": "circle", "size": 5, "color": "#1f77b4", "opacity": 0.8},
        "encoding": {"y": {"field": "d", "type": "quantitative", "scale": {"domain": [0,10], "nice": false, "zero": false}, "axis": {"values": [0,2.5,5,7.5,10], "format": ".1f", "title": "State x, State y", "minExtent": 21, "maxExtent": 21, "titlePadding": 3}}}},
       {"data": {"values": [{}]}, "mark": {"type": "rule", "color": "#f25a5a", "strokeWidth": 1.1}, "encoding": {"x": {"datum": 6.1, "type": "quantitative"}}}
     ]},
    {"width": 147, "height": 63, "encoding": {"x": {"field": "t", "type": "quantitative", "scale": {"domain": [-0.91,19.11], "nice": false, "zero": false}, "axis": {"values": [0,5,10,15], "title": null, "labelFlush": false}}},
     "layer": [
       {"data": {"name": "tsy"}, "transform": [{"flatten": ["t","d","p","gelu","mish","elu","tanh"]}], "mark": {"type": "line", "color": "#ee5a2c", "strokeWidth": 1.3},
        "encoding": {"y": {"field": "elu", "type": "quantitative", "scale": {"domain": [0,10], "nice": false, "zero": false}, "axis": {"values": [0,2.5,5,7.5,10], "format": ".1f", "title": null, "minExtent": 21, "maxExtent": 21}}}},
       {"data": {"name": "tsy"}, "transform": [{"flatten": ["t","d","p","gelu","mish","elu","tanh"]}], "mark": {"type": "circle", "size": 5, "color": "#1f77b4", "opacity": 0.8},
        "encoding": {"y": {"field": "d", "type": "quantitative", "scale": {"domain": [0,10], "nice": false, "zero": false}, "axis": {"values": [0,2.5,5,7.5,10], "format": ".1f", "title": null, "minExtent": 21, "maxExtent": 21}}}},
       {"data": {"values": [{}]}, "mark": {"type": "rule", "color": "#f25a5a", "strokeWidth": 1.1}, "encoding": {"x": {"datum": 6.1, "type": "quantitative"}}}
     ]},

    {"width": 305, "height": 54, "encoding": {"x": {"field": "e", "type": "quantitative", "scale": {"domain": [-200,4200], "nice": false, "zero": false}, "axis": {"values": [0,500,1000,1500,2000,2500,3000,3500,4000], "format": "d", "title": "epochs", "titlePadding": 1, "labelFlush": false}}},
     "layer": [
       {"data": {"name": "lossband"}, "transform": [{"filter": "datum.a == 'tanh'"}, {"flatten": ["e","lo","hi"]}], "mark": {"type": "area", "color": "#a9cbe8", "opacity": 0.9, "clip": true},
        "encoding": {"y": {"field": "lo", "type": "quantitative", "scale": {"type": "log", "domain": [0.062,12.9], "nice": false}, "axis": {"values": [0.1,1,10], "labelExpr": "datum.value > 5 ? '10¹' : datum.value > 0.5 ? '10⁰' : '10⁻¹'", "title": "train loss", "minExtent": 20, "maxExtent": 20, "titlePadding": 5}}, "y2": {"field": "hi"}, "detail": {"field": "g"}}},
       {"data": {"name": "loss"}, "transform": [{"flatten": ["e","molu","gelu","mish","silu","elu","tanh"]}], "mark": {"type": "line", "strokeWidth": 1, "clip": true},
        "encoding": {"y": {"field": "tanh", "type": "quantitative", "scale": {"type": "log", "domain": [0.062,12.9], "nice": false}, "axis": {"values": [0.1,1,10], "labelExpr": "datum.value > 5 ? '10¹' : datum.value > 0.5 ? '10⁰' : '10⁻¹'", "title": "train loss", "minExtent": 20, "maxExtent": 20, "titlePadding": 5}},
          "color": {"datum": "tanh", "type": "nominal", "scale": {"domain": ["tanh"], "range": ["#bcbd22"]}, "legend": {"title": null}}}}
     ]},
    {"width": 148, "height": 54, "encoding": {"x": {"field": "t", "type": "quantitative", "scale": {"domain": [-0.91,19.11], "nice": false, "zero": false}, "axis": {"values": [0,5,10,15], "title": "Time t", "titlePadding": 1, "labelFlush": false}}},
     "layer": [
       {"data": {"name": "tsx"}, "transform": [{"flatten": ["t","d","p","gelu","mish","tanh"]}], "mark": {"type": "line", "color": "#ee5a2c", "strokeWidth": 1.3},
        "encoding": {"y": {"field": "tanh", "type": "quantitative", "scale": {"domain": [0,10], "nice": false, "zero": false}, "axis": {"values": [0,5,10], "format": "d", "title": "State x, State y", "minExtent": 21, "maxExtent": 21, "titlePadding": 3}}}},
       {"data": {"name": "tsx"}, "transform": [{"flatten": ["t","d","p","gelu","mish","tanh"]}], "mark": {"type": "circle", "size": 5, "color": "#1f77b4", "opacity": 0.8},
        "encoding": {"y": {"field": "d", "type": "quantitative", "scale": {"domain": [0,10], "nice": false, "zero": false}, "axis": {"values": [0,5,10], "format": "d", "title": "State x, State y", "minExtent": 21, "maxExtent": 21, "titlePadding": 3}}}},
       {"data": {"values": [{}]}, "mark": {"type": "rule", "color": "#f25a5a", "strokeWidth": 1.1}, "encoding": {"x": {"datum": 6.1, "type": "quantitative"}}}
     ]},
    {"width": 147, "height": 54, "encoding": {"x": {"field": "t", "type": "quantitative", "scale": {"domain": [-0.91,19.11], "nice": false, "zero": false}, "axis": {"values": [0,5,10,15], "title": "Time t", "titlePadding": 1, "labelFlush": false}}},
     "layer": [
       {"data": {"name": "tsy"}, "transform": [{"flatten": ["t","d","p","gelu","mish","elu","tanh"]}], "mark": {"type": "line", "color": "#ee5a2c", "strokeWidth": 1.3},
        "encoding": {"y": {"field": "tanh", "type": "quantitative", "scale": {"domain": [0,10], "nice": false, "zero": false}, "axis": {"values": [0,5,10], "format": "d", "title": null, "minExtent": 21, "maxExtent": 21}}}},
       {"data": {"name": "tsy"}, "transform": [{"flatten": ["t","d","p","gelu","mish","elu","tanh"]}], "mark": {"type": "circle", "size": 5, "color": "#1f77b4", "opacity": 0.8},
        "encoding": {"y": {"field": "d", "type": "quantitative", "scale": {"domain": [0,10], "nice": false, "zero": false}, "axis": {"values": [0,5,10], "format": "d", "title": null, "minExtent": 21, "maxExtent": 21}}}},
       {"data": {"values": [{}]}, "mark": {"type": "rule", "color": "#f25a5a", "strokeWidth": 1.1}, "encoding": {"x": {"datum": 6.1, "type": "quantitative"}}}
     ]}
  ]
},
{
  "width": 671, "height": 44,
  "data": {"values": [{"c": "FIG. 3. Train losses. Train losses per epochs for each activations. Left region of vertical red line is training datasets and right\nregion is extrapolation predictions"}]},
  "mark": {"type": "text", "align": "left", "baseline": "top", "lineBreak": "\n", "lineHeight": 17, "dx": -34, "font": "Liberation Serif", "fontSize": 14, "color": "#111"},
  "encoding": {
    "text": {"field": "c"},
    "x": {"datum": 0, "type": "quantitative", "scale": {"domain": [0,1]}, "axis": null},
    "y": {"datum": 1, "type": "quantitative", "scale": {"domain": [0,1]}, "axis": null}
  }
},
{
  "spacing": 22,
  "hconcat": [
    {
      "width": 308, "height": 250,
      "data": {"values": [{"h": "A.\u2002\u2002NeuralODEs", "b": "\u2003We begin our experiment with Lotka-Volterra model,\nthe commonly used simple model of NeuralODEs.\nCoefficients and initial conditions in the Lotka-Volterra\nequations were all identical to the setting in [4]. Fol-\nlowing [3], we generated training data by numerically\nover the time span t ∈ [0, 6.1], then adding Gaussian\nnoise with zero mean and standard deviation 5% of the\nmean of each channel. We set 4,000 epochs for each\nexperiment, the learning rate was 0.02, and random\nseeds were used for 10, 20, 30 for each activation\nfunction, and standard errors were used.\nFig. 3 and Fig. 4 show that our activation function is\nnot only rapidly approaching the minimum of a loss\nfunction, but also showing a very stable performance."}]},
      "layer": [
        {"mark": {"type": "text", "align": "center", "baseline": "top", "dx": -18, "font": "Liberation Serif", "fontSize": 15, "fontWeight": "bold", "color": "#111"},
         "encoding": {"text": {"field": "h"},
           "x": {"datum": 0.5, "type": "quantitative", "scale": {"domain": [0,1]}, "axis": null},
           "y": {"datum": 1, "type": "quantitative", "scale": {"domain": [0,1]}, "axis": null}}},
        {"mark": {"type": "text", "align": "left", "baseline": "top", "lineBreak": "\n", "lineHeight": 15.9, "dx": -34, "dy": 34, "font": "Liberation Serif", "fontSize": 15, "color": "#111"},
         "encoding": {"text": {"field": "b"},
           "x": {"datum": 0, "type": "quantitative", "scale": {"domain": [0,1]}, "axis": null},
           "y": {"datum": 1, "type": "quantitative", "scale": {"domain": [0,1]}, "axis": null}}}
      ]
    },
    {
      "width": 274, "height": 194,
      "view": {"stroke": "#333", "strokeWidth": 0.8},
      "title": {"text": ["FIG. 4.\u2002 Average of train losses and standard deviations.", "Mean value is the average of the minimum of the train loss", "for each three random seeds."], "orient": "bottom", "anchor": "start", "frame": "group", "dx": -50, "offset": 20, "font": "Liberation Serif", "fontSize": 14.5, "fontWeight": "normal", "lineHeight": 16.5, "color": "#111"},
      "data": {"name": "bars"},
      "encoding": {
        "x": {"field": "act", "type": "nominal", "sort": null, "scale": {"paddingInner": 0.2, "paddingOuter": 0.3}, "axis": {"labelAngle": 0, "title": null, "labelFontSize": 11, "grid": false, "domain": false, "tickSize": 3.5, "labelPadding": 2}}
      },
      "layer": [
        {"mark": {"type": "bar"},
         "encoding": {
           "y": {"field": "mean", "type": "quantitative", "title": "train loss", "scale": {"domain": [0,0.0793], "nice": false}, "axis": {"values": [0,0.01,0.02,0.03,0.04,0.05,0.06,0.07], "format": ".2f", "labelOverlap": false, "titleFontSize": 13, "titlePadding": 4, "domain": false, "grid": true, "gridColor": "#e3e3e3", "tickSize": 3.5, "labelPadding": 2}},
           "color": {"field": "act", "type": "nominal", "sort": null, "scale": {"domain": ["molu","gelu","mish","silu","elu","tanh"], "range": ["#ff7f0e","#2ca02c","#1f77b4","#7f7f7f","#9467bd","#bcbd22"]}, "legend": null}
         }},
        {"mark": {"type": "rule", "color": "#111", "strokeWidth": 1.3},
         "encoding": {"y": {"field": "lo", "type": "quantitative", "title": "train loss", "axis": {"values": [0,0.01,0.02,0.03,0.04,0.05,0.06,0.07], "format": ".2f", "labelOverlap": false, "titleFontSize": 13, "titlePadding": 4, "domain": false, "grid": true, "gridColor": "#e3e3e3", "tickSize": 3.5, "labelPadding": 2}}, "y2": {"field": "hi"}}},
        {"mark": {"type": "tick", "color": "#111", "thickness": 1.3, "size": 15},
         "encoding": {"y": {"field": "lo", "type": "quantitative", "title": "train loss", "axis": {"values": [0,0.01,0.02,0.03,0.04,0.05,0.06,0.07], "format": ".2f", "labelOverlap": false, "titleFontSize": 13, "titlePadding": 4, "domain": false, "grid": true, "gridColor": "#e3e3e3", "tickSize": 3.5, "labelPadding": 2}}}},
        {"mark": {"type": "tick", "color": "#111", "thickness": 1.3, "size": 15},
         "encoding": {"y": {"field": "hi", "type": "quantitative", "title": "train loss", "axis": {"values": [0,0.01,0.02,0.03,0.04,0.05,0.06,0.07], "format": ".2f", "labelOverlap": false, "titleFontSize": 13, "titlePadding": 4, "domain": false, "grid": true, "gridColor": "#e3e3e3", "tickSize": 3.5, "labelPadding": 2}}}}
      ]
    }
  ]
}
]
}
